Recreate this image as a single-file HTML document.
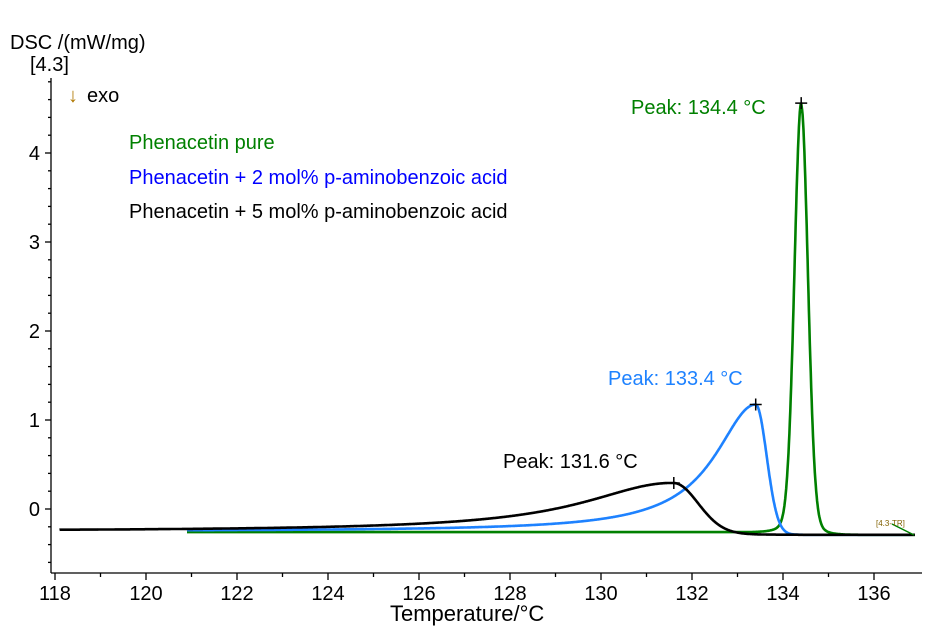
<!DOCTYPE html>
<html><head><meta charset="utf-8"><style>
body{margin:0;background:#fff;}
svg{display:block;font-family:"Liberation Sans",Arial,sans-serif;}
</style></head><body>
<svg id="s" width="945" height="630" xmlns="http://www.w3.org/2000/svg">
<rect width="945" height="630" fill="#fff"/>
<g id="axes" stroke="#000" stroke-width="1.3" fill="none"></g>
<g font-size="20" fill="#000">
<text x="10" y="49">DSC /(mW/mg)</text>
</g>
<g id="curves" fill="none" stroke-width="2.6" stroke-linejoin="round"></g>
<g font-size="20">
<text x="30" y="71" fill="#000">[4.3]</text>
<text x="68" y="102" fill="#b07800">↓</text><text x="87" y="102" fill="#000">exo</text>
<text x="129" y="149" fill="#008000">Phenacetin pure</text>
<text x="129" y="184" fill="#0000ff">Phenacetin + 2 mol% p-aminobenzoic acid</text>
<text x="129" y="218" fill="#000">Phenacetin + 5 mol% p-aminobenzoic acid</text>
<text x="631" y="114" fill="#008000">Peak: 134.4 °C</text>
<text x="608" y="385" fill="#1e82ff">Peak: 133.4 °C</text>
<text x="503" y="468" fill="#000">Peak: 131.6 °C</text>
<text x="40" y="516" text-anchor="end">0</text>
<text x="40" y="427" text-anchor="end">1</text>
<text x="40" y="338" text-anchor="end">2</text>
<text x="40" y="249" text-anchor="end">3</text>
<text x="40" y="160" text-anchor="end">4</text>
<text x="390" y="621" font-size="22">Temperature/°C</text>
</g>
<text x="876" y="526" font-size="8" fill="#806000">[4.3-TR]</text>
<g id="xl" font-size="20" text-anchor="middle"></g>
</svg>
<script>
var NS="http://www.w3.org/2000/svg";
function X(t){return 783+(t-134)*45.5;}
function Y(v){return 509-89*v;}
function el(p,tag,a){var e=document.createElementNS(NS,tag);for(var k in a)e.setAttribute(k,a[k]);p.appendChild(e);return e;}
var ax=document.getElementById('axes');
el(ax,'line',{x1:51,y1:78,x2:51,y2:573});
el(ax,'line',{x1:51,y1:573,x2:922,y2:573});
for(var v=-0.6;v<=4.85;v+=0.2){var y=Y(v);if(y<78||y>573)continue;var major=Math.abs(v-Math.round(v))<0.01;el(ax,'line',{x1:major?45:48,y1:y,x2:51,y2:y});}
var xl=document.getElementById('xl');
for(var t=118;t<=136.9;t+=1){var x=X(t);var major=(t%2==0);el(ax,'line',{x1:x,y1:573,x2:x,y2:major?580:577});if(major){var tx=el(xl,'text',{x:x,y:600});tx.textContent=t;}}
function base(t){return -0.25-0.04/(1+Math.exp(-(t-132.3)/0.5));}
function black(t){var d=t-131.6;var b=base(t);return b+(d<0?0.55/(1+Math.pow(d/2.4,2)):0.55*Math.exp(-Math.pow(d/0.75,2)));}
function blue(t){var d=t-133.4;var b=base(t);return b+(d<0?1.46/(1+Math.pow(d/1.1,2)):1.46*Math.exp(-Math.pow(d/0.34,2)));}
function green(t){var d=t-134.4;var b=-0.26-0.03*(t>134.4?1:0);return b+4.2*Math.exp(-Math.pow(d/0.21,2))+0.62/(1+Math.pow(d/0.2,2))*Math.exp(-Math.pow(d/0.7,2));}
var cv=document.getElementById('curves');
function draw(f,t0,t1,col){var d="";for(var t=t0;t<=t1;t+=0.01){d+=(d?"L":"M")+X(t).toFixed(1)+","+Y(f(t)).toFixed(1);}el(cv,'path',{d:d,stroke:col});}
draw(green,120.9,136.9,'#008000');
draw(blue,120.9,136.8,'#1e82ff');
draw(black,118.1,136.9,'#000');
el(cv,'line',{x1:892,y1:524,x2:914,y2:535,stroke:'#008000','stroke-width':1.5});
function cross(t,v){var x=X(t),y=Y(v);el(cv,'path',{d:"M"+(x-6)+","+y+"H"+(x+6)+"M"+x+","+(y-6)+"V"+(y+6),stroke:'#000','stroke-width':1.5});}
cross(134.4,green(134.4));cross(133.4,blue(133.4));cross(131.6,black(131.6));
</script>
</body></html>
